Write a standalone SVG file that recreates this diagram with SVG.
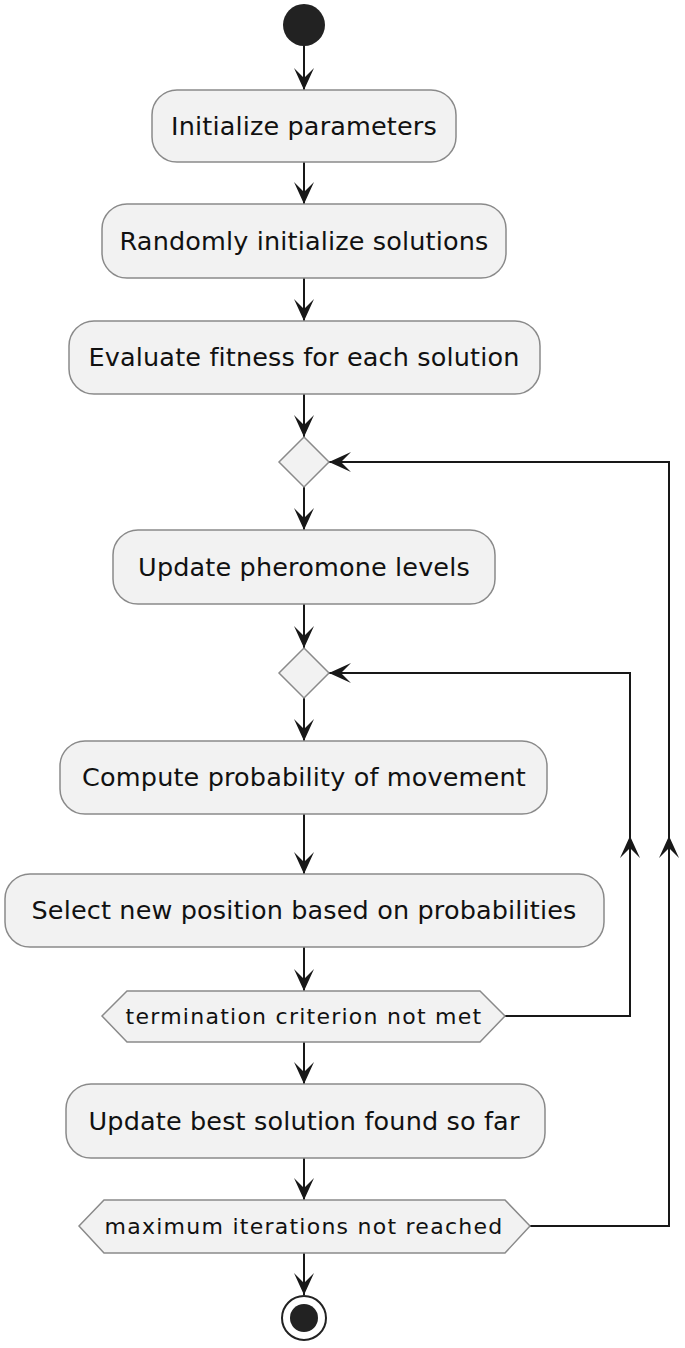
<svg xmlns="http://www.w3.org/2000/svg" width="685" height="1348" viewBox="0 0 685 1348">
<defs>
<style>
.box{fill:#f2f2f2;stroke:#8a8a8a;stroke-width:1.5}
.lbl{font-family:"DejaVu Sans",sans-serif;font-size:25.5px;fill:#111;text-anchor:middle;font-variant-ligatures:none;letter-spacing:0.15px}
.hlbl{font-family:"DejaVu Sans",sans-serif;font-size:22px;fill:#111;text-anchor:middle;letter-spacing:1.25px;font-variant-ligatures:none}
.edge{fill:none;stroke:#181818;stroke-width:2}
</style>
<marker id="ah" markerUnits="userSpaceOnUse" viewBox="-23 -11 24 22" markerWidth="24" markerHeight="22" refX="0" refY="0" orient="auto">
<path d="M0,0 L-22,-10 L-12,0 L-22,10 Z" fill="#181818"/>
</marker>
</defs>
<rect width="685" height="1348" fill="#ffffff"/>
<g id="connectors">
<line class="edge" x1="304" y1="46" x2="304" y2="90" marker-end="url(#ah)"/>
<line class="edge" x1="304" y1="162" x2="304" y2="204" marker-end="url(#ah)"/>
<line class="edge" x1="304" y1="278" x2="304" y2="321" marker-end="url(#ah)"/>
<line class="edge" x1="304" y1="394" x2="304" y2="437" marker-end="url(#ah)"/>
<line class="edge" x1="304" y1="487" x2="304" y2="530" marker-end="url(#ah)"/>
<line class="edge" x1="304" y1="604" x2="304" y2="648" marker-end="url(#ah)"/>
<line class="edge" x1="304" y1="698" x2="304" y2="741" marker-end="url(#ah)"/>
<line class="edge" x1="304" y1="814" x2="304" y2="874" marker-end="url(#ah)"/>
<line class="edge" x1="304" y1="947" x2="304" y2="991" marker-end="url(#ah)"/>
<line class="edge" x1="304" y1="1042" x2="304" y2="1084" marker-end="url(#ah)"/>
<line class="edge" x1="304" y1="1158" x2="304" y2="1200" marker-end="url(#ah)"/>
<line class="edge" x1="304" y1="1253" x2="304" y2="1295" marker-end="url(#ah)"/>
<polyline class="edge" points="505,1016 630,1016 630,836" marker-end="url(#ah)"/>
<polyline class="edge" points="630,840 630,673 329,673" marker-end="url(#ah)"/>
<polyline class="edge" points="530,1226 669,1226 669,836" marker-end="url(#ah)"/>
<polyline class="edge" points="669,840 669,462 329,462" marker-end="url(#ah)"/>
</g>
<g id="start"><circle cx="304" cy="25" r="21" fill="#222"/></g>
<g id="n1"><rect class="box" x="152" y="90" width="304" height="72" rx="25"/><text class="lbl" x="304" y="135">Initialize parameters</text></g>
<g id="n2"><rect class="box" x="102" y="204" width="404" height="74" rx="25"/><text class="lbl" x="304" y="250">Randomly initialize solutions</text></g>
<g id="n3"><rect class="box" x="69" y="321" width="471" height="73" rx="25"/><text class="lbl" x="304" y="366">Evaluate fitness for each solution</text></g>
<g id="d1"><polygon class="box" points="304,437 329,462 304,487 279,462"/></g>
<g id="n4"><rect class="box" x="113" y="530" width="382" height="74" rx="25"/><text class="lbl" x="304" y="576">Update pheromone levels</text></g>
<g id="d2"><polygon class="box" points="304,648 329,673 304,698 279,673"/></g>
<g id="n5"><rect class="box" x="60" y="741" width="487" height="73" rx="25"/><text class="lbl" x="304" y="786">Compute probability of movement</text></g>
<g id="n6"><rect class="box" x="5" y="874" width="599" height="73" rx="25"/><text class="lbl" x="304" y="919">Select new position based on probabilities</text></g>
<g id="h1"><polygon class="box" points="102,1016 127,991 480,991 505,1016 480,1042 127,1042"/><text class="hlbl" x="304" y="1024">termination criterion not met</text></g>
<g id="n7"><rect class="box" x="66" y="1084" width="479" height="74" rx="25"/><text class="lbl" x="304" y="1130">Update best solution found so far</text></g>
<g id="h2"><polygon class="box" points="79,1226 104,1200 505,1200 530,1226 505,1253 104,1253"/><text class="hlbl" x="304" y="1234">maximum iterations not reached</text></g>
<g id="end"><circle cx="304" cy="1318" r="22" fill="#fff" stroke="#222" stroke-width="2"/><circle cx="304" cy="1318" r="14" fill="#222"/></g>
</svg>
